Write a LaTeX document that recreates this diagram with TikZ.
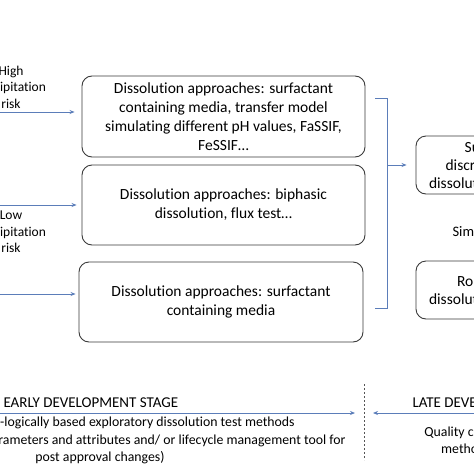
\documentclass[tikz,border=0pt]{standalone}
\usepackage{fontspec}
\setmainfont{Carlito}[Ligatures=NoCommon]
\usetikzlibrary{arrows.meta}
\definecolor{arrowblue}{HTML}{5B7DB9}
\definecolor{boxgray}{HTML}{3A3A3A}
\definecolor{dashgray}{HTML}{555555}
\tikzset{
  approach/.style={draw=boxgray, line width=0.9pt, rounded corners=10pt,
    minimum width=283pt, minimum height=80pt, inner sep=2pt, align=center,
    font=\fontsize{15.5}{19}\selectfont},
  method/.style={draw=boxgray, line width=0.9pt, rounded corners=10pt,
    minimum width=148pt, minimum height=58pt, inner sep=2pt, align=center,
    font=\fontsize{15.5}{18}\selectfont},
  risk/.style={align=center, font=\fontsize{13.5}{16.5}\selectfont},
  stage/.style={anchor=west, font=\fontsize{15}{18}\selectfont},
  stagetext/.style={align=center, font=\fontsize{13.8}{17.5}\selectfont},
  bluearrow/.style={draw=arrowblue, line width=0.8pt, -{Stealth[length=5pt,width=4pt]}},
  blueline/.style={draw=arrowblue, line width=0.8pt}
}
\begin{document}
\begin{tikzpicture}[x=1pt,y=-1pt]
  \useasboundingbox (0,0) rectangle (474,474);
  \clip (0,0) rectangle (474,474);

  % risk classes
  \node[risk] (high) at (11,87) {High\\precipitation\\risk};
  \node[risk] (low) at (11,232) {Low\\precipitation\\risk};

  % dissolution approaches
  \node[approach, minimum height=81pt] (fassif) at (223.5,116.5)
    {Dissolution approaches: surfactant\\containing media, transfer model\\simulating different pH values, FaSSIF,\\FeSSIF\dots};
  \node[approach] (biphasic) at (223.5,205)
    {Dissolution approaches: biphasic\\dissolution, flux test\dots};
  \node[approach, minimum width=284pt] (surfactant) at (221,302)
    {Dissolution approaches: surfactant\\containing media};

  \coordinate (in1) at (-5,112);
  \coordinate (in2) at (-5,205);
  \coordinate (in3) at (-5,294);
  \draw[bluearrow, shorten >=7pt] (in1) -- (in1 -| fassif.west);
  \draw[bluearrow, shorten >=5pt] (in2) -- (in2 -| biphasic.west);
  \draw[bluearrow, shorten >=3pt] (in3) -- (in3 -| surfactant.west);

  % bracket
  \coordinate (bt) at (375,98);
  \coordinate (bb) at (375,308);
  \coordinate (bm) at (387,165);
  \draw[blueline] (bt) -- ++(12,0) |- (bb);

  % late stage methods
  \node[method] (discr) at (490,165) {Suitable\\discriminating\\dissolution method};
  \node[method] (robust) at (490,290) {Robust QC\\dissolution method};
  \node[anchor=west, font=\fontsize{14.5}{17}\selectfont] (simp) at (449,233) {Simplified};
  \draw[bluearrow, shorten >=9pt] (bm) -- (bm -| discr.west);

  % development stages
  \coordinate (sep) at (364,413);
  \coordinate (dtop) at (364,384);
  \coordinate (dbot) at (364,460);
  \coordinate (el) at (-5,413);
  \coordinate (er) at (480,413);
  \draw[dashgray, line width=0.8pt, dash pattern=on 2pt off 2pt] (dtop) -- (dbot);
  \draw[bluearrow, shorten >=9pt] (el) -- (sep);
  \draw[bluearrow, shorten >=9pt] (er) -- (sep);

  \node[stage] (early) at (0,403) {EARLY DEVELOPMENT STAGE};
  \node[stagetext] (earlytext) at (100,440.5)
    {Predictive physio-logically based exploratory dissolution test methods\\(to find critical process parameters and attributes and/ or lifecycle management tool for\\post approval changes)};
  \node[stage] (late) at (409,403) {LATE DEVELOPMENT STAGE};
  \node[stagetext] (latetext) at (466,440.5) {Quality control\\methods};
\end{tikzpicture}
\end{document}
